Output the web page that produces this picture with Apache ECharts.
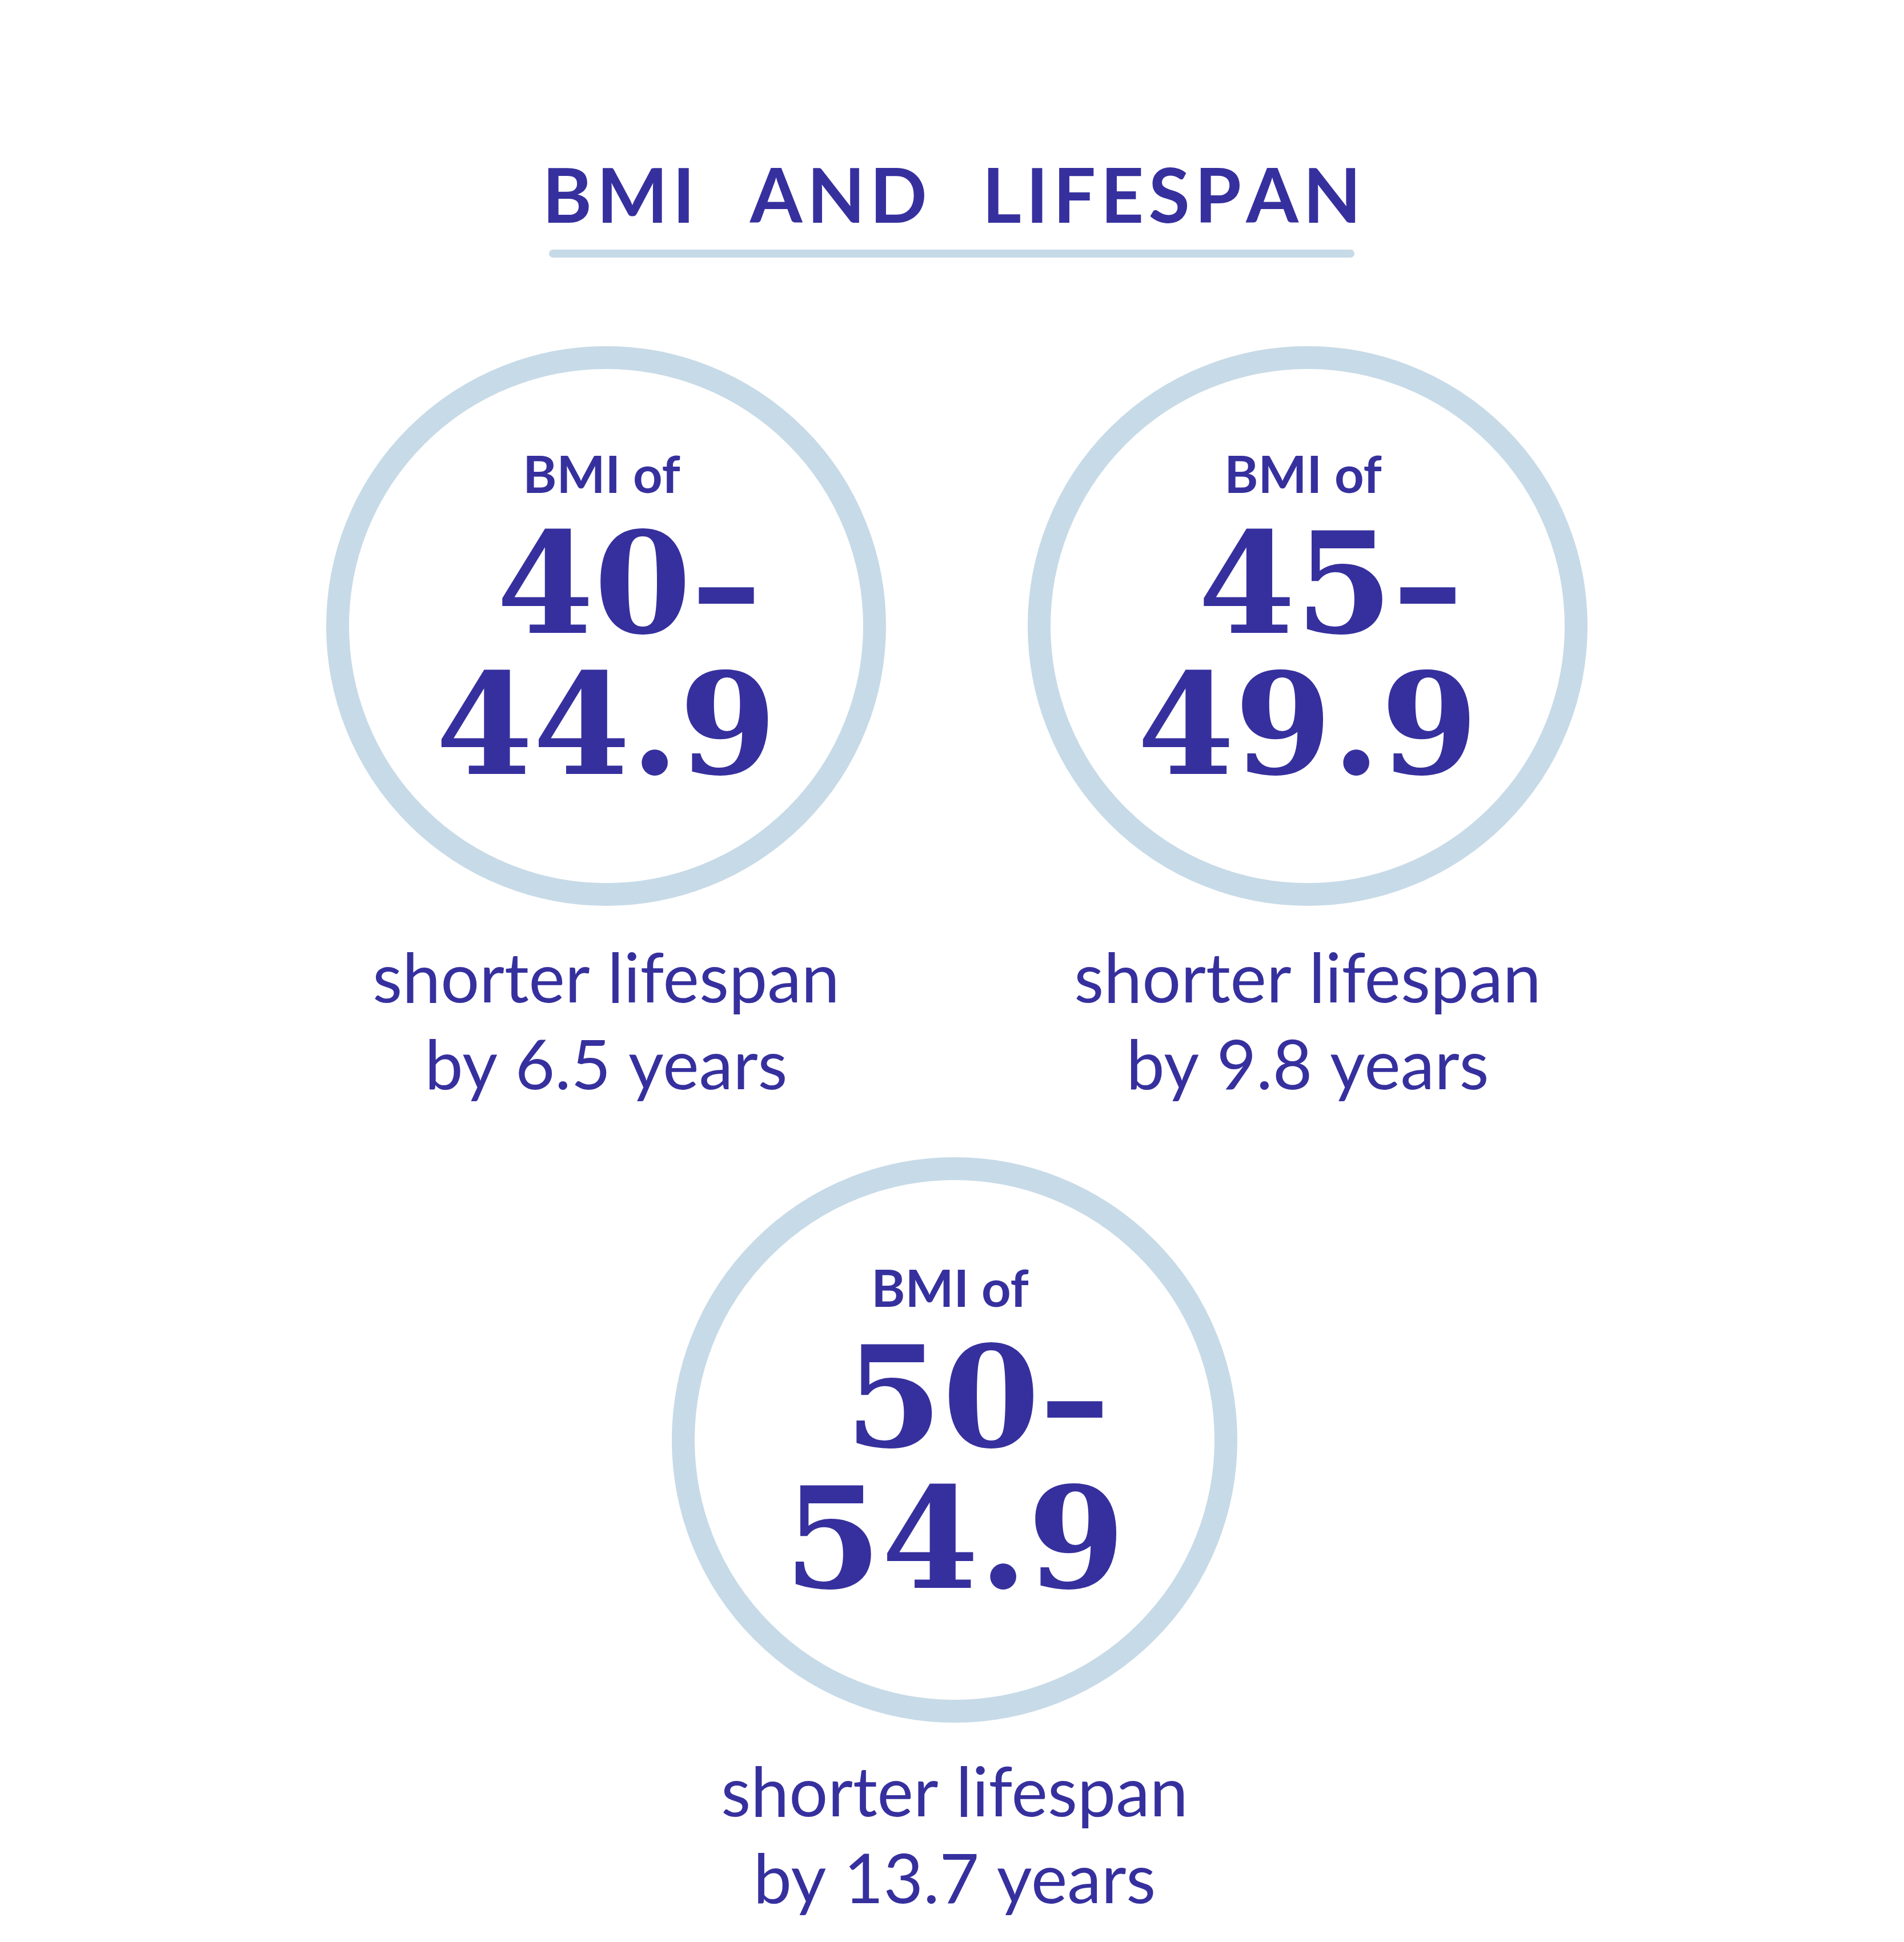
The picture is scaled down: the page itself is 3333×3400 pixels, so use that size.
<!DOCTYPE html>
<html><head><meta charset="utf-8">
<script src="https://cdn.jsdelivr.net/npm/echarts@6/dist/echarts.min.js"></script>
<style>html,body{margin:0;background:#fff}#c{width:3333px;height:3400px}</style>
</head><body><div id="c"></div>
<script>
const title = "B\u200AM\u200AI   A\u200AN\u200AD   L\u200AI\u200AF\u200AE\u200AS\u200AP\u200AA\u200AN";
const bmiFrom = ["40–", "45–", "50–"];
const bmiTo = ["44.9", "49.9", "54.9"];
const yearsShorter = [6.5, 9.8, 13.7];
const centers = [[1061, 1096], [2289, 1096], [1671, 2521]];
const R = [470, 470, 475];
const ink = "#36309e", ring = "#c7dae7";
const g = [];
g.push({type:'text', style:{text:title, x:1666, y:347, align:'center', verticalAlign:'middle', font:'bold 132px Lato', fill:ink}});
g.push({type:'rect', shape:{x:961, y:437, width:1410, height:14, r:7}, style:{fill:ring}});
for (let i=0;i<3;i++){
  const [cx,cy]=centers[i];
  g.push({type:'circle', shape:{cx, cy, r:R[i]}, style:{fill:'none', stroke:ring, lineWidth:40}});
  g.push({type:'text', style:{text:'BMI of', x:cx-8, y:cy-262, align:'center', verticalAlign:'middle', font:'bold 90px Lato', fill:ink}});
  g.push({type:'text', style:{text:bmiFrom[i], x:cx+40, y:cy-52, align:'center', verticalAlign:'middle', font:'bold 245px "DejaVu Serif"', fill:ink}});
  g.push({type:'text', style:{text:bmiTo[i], x:cx, y:cy+195, align:'center', verticalAlign:'middle', font:'bold 245px "DejaVu Serif"', fill:ink}});
  g.push({type:'text', style:{text:'shorter lifespan', x:cx, y:cy+620, align:'center', verticalAlign:'middle', font:'120px Lato', fill:ink}});
  g.push({type:'text', style:{text:'by '+yearsShorter[i]+' years', x:cx, y:cy+772, align:'center', verticalAlign:'middle', font:'120px Lato', fill:ink}});
}
const chart = echarts.init(document.getElementById('c'));
chart.setOption({backgroundColor:'#fff', graphic:g});
</script></body></html>
